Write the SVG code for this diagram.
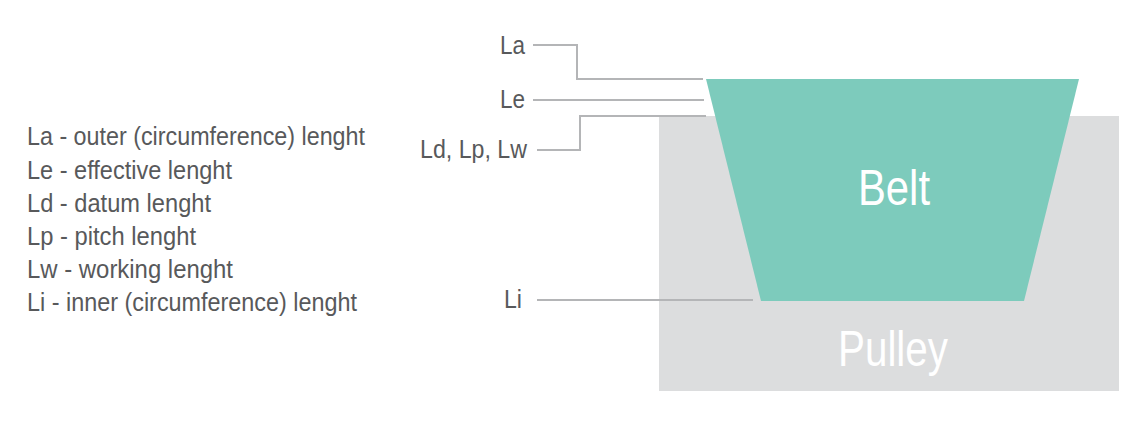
<svg xmlns="http://www.w3.org/2000/svg" width="1147" height="425" viewBox="0 0 1147 425">
<style>
text{font-family:"Liberation Sans",Arial,sans-serif;fill:#58595b;font-size:26px}
.w{fill:#fff;font-size:50px}
.c{fill:none;stroke:#b4b5b7;stroke-width:2}
</style>
<rect width="1147" height="425" fill="#fff"/>
<g id="pulley">
<rect x="659" y="116" width="460" height="275" fill="#dcddde"/>
<text class="w" x="838" y="366" textLength="110" lengthAdjust="spacingAndGlyphs">Pulley</text>
</g>
<g id="belt">
<polygon points="706,79 1079,79 1024,301 761,301" fill="#7dcbbc"/>
<text class="w" x="858" y="205" textLength="72" lengthAdjust="spacingAndGlyphs">Belt</text>
</g>
<g id="connectors">
<path class="c" d="M533,45H577V79H703"/>
<path class="c" d="M533,100H704"/>
<path class="c" d="M537,150H580V116H706"/>
<path class="c" d="M537,300H753"/>
</g>
<g id="label-la"><text x="500" y="54" textLength="25" lengthAdjust="spacingAndGlyphs">La</text></g>
<g id="label-le"><text x="500" y="108" textLength="25" lengthAdjust="spacingAndGlyphs">Le</text></g>
<g id="label-ld"><text x="420" y="158" textLength="107" lengthAdjust="spacingAndGlyphs">Ld, Lp, Lw</text></g>
<g id="label-li"><text x="504" y="308" textLength="18" lengthAdjust="spacingAndGlyphs">Li</text></g>
<g id="legend">
<text x="27" y="145" textLength="338" lengthAdjust="spacingAndGlyphs">La - outer (circumference) lenght</text>
<text x="27" y="179" textLength="205" lengthAdjust="spacingAndGlyphs">Le - effective lenght</text>
<text x="27" y="212" textLength="184" lengthAdjust="spacingAndGlyphs">Ld - datum lenght</text>
<text x="27" y="245" textLength="169" lengthAdjust="spacingAndGlyphs">Lp - pitch lenght</text>
<text x="27" y="278" textLength="206" lengthAdjust="spacingAndGlyphs">Lw - working lenght</text>
<text x="27" y="311" textLength="330" lengthAdjust="spacingAndGlyphs">Li - inner (circumference) lenght</text>
</g>
</svg>
